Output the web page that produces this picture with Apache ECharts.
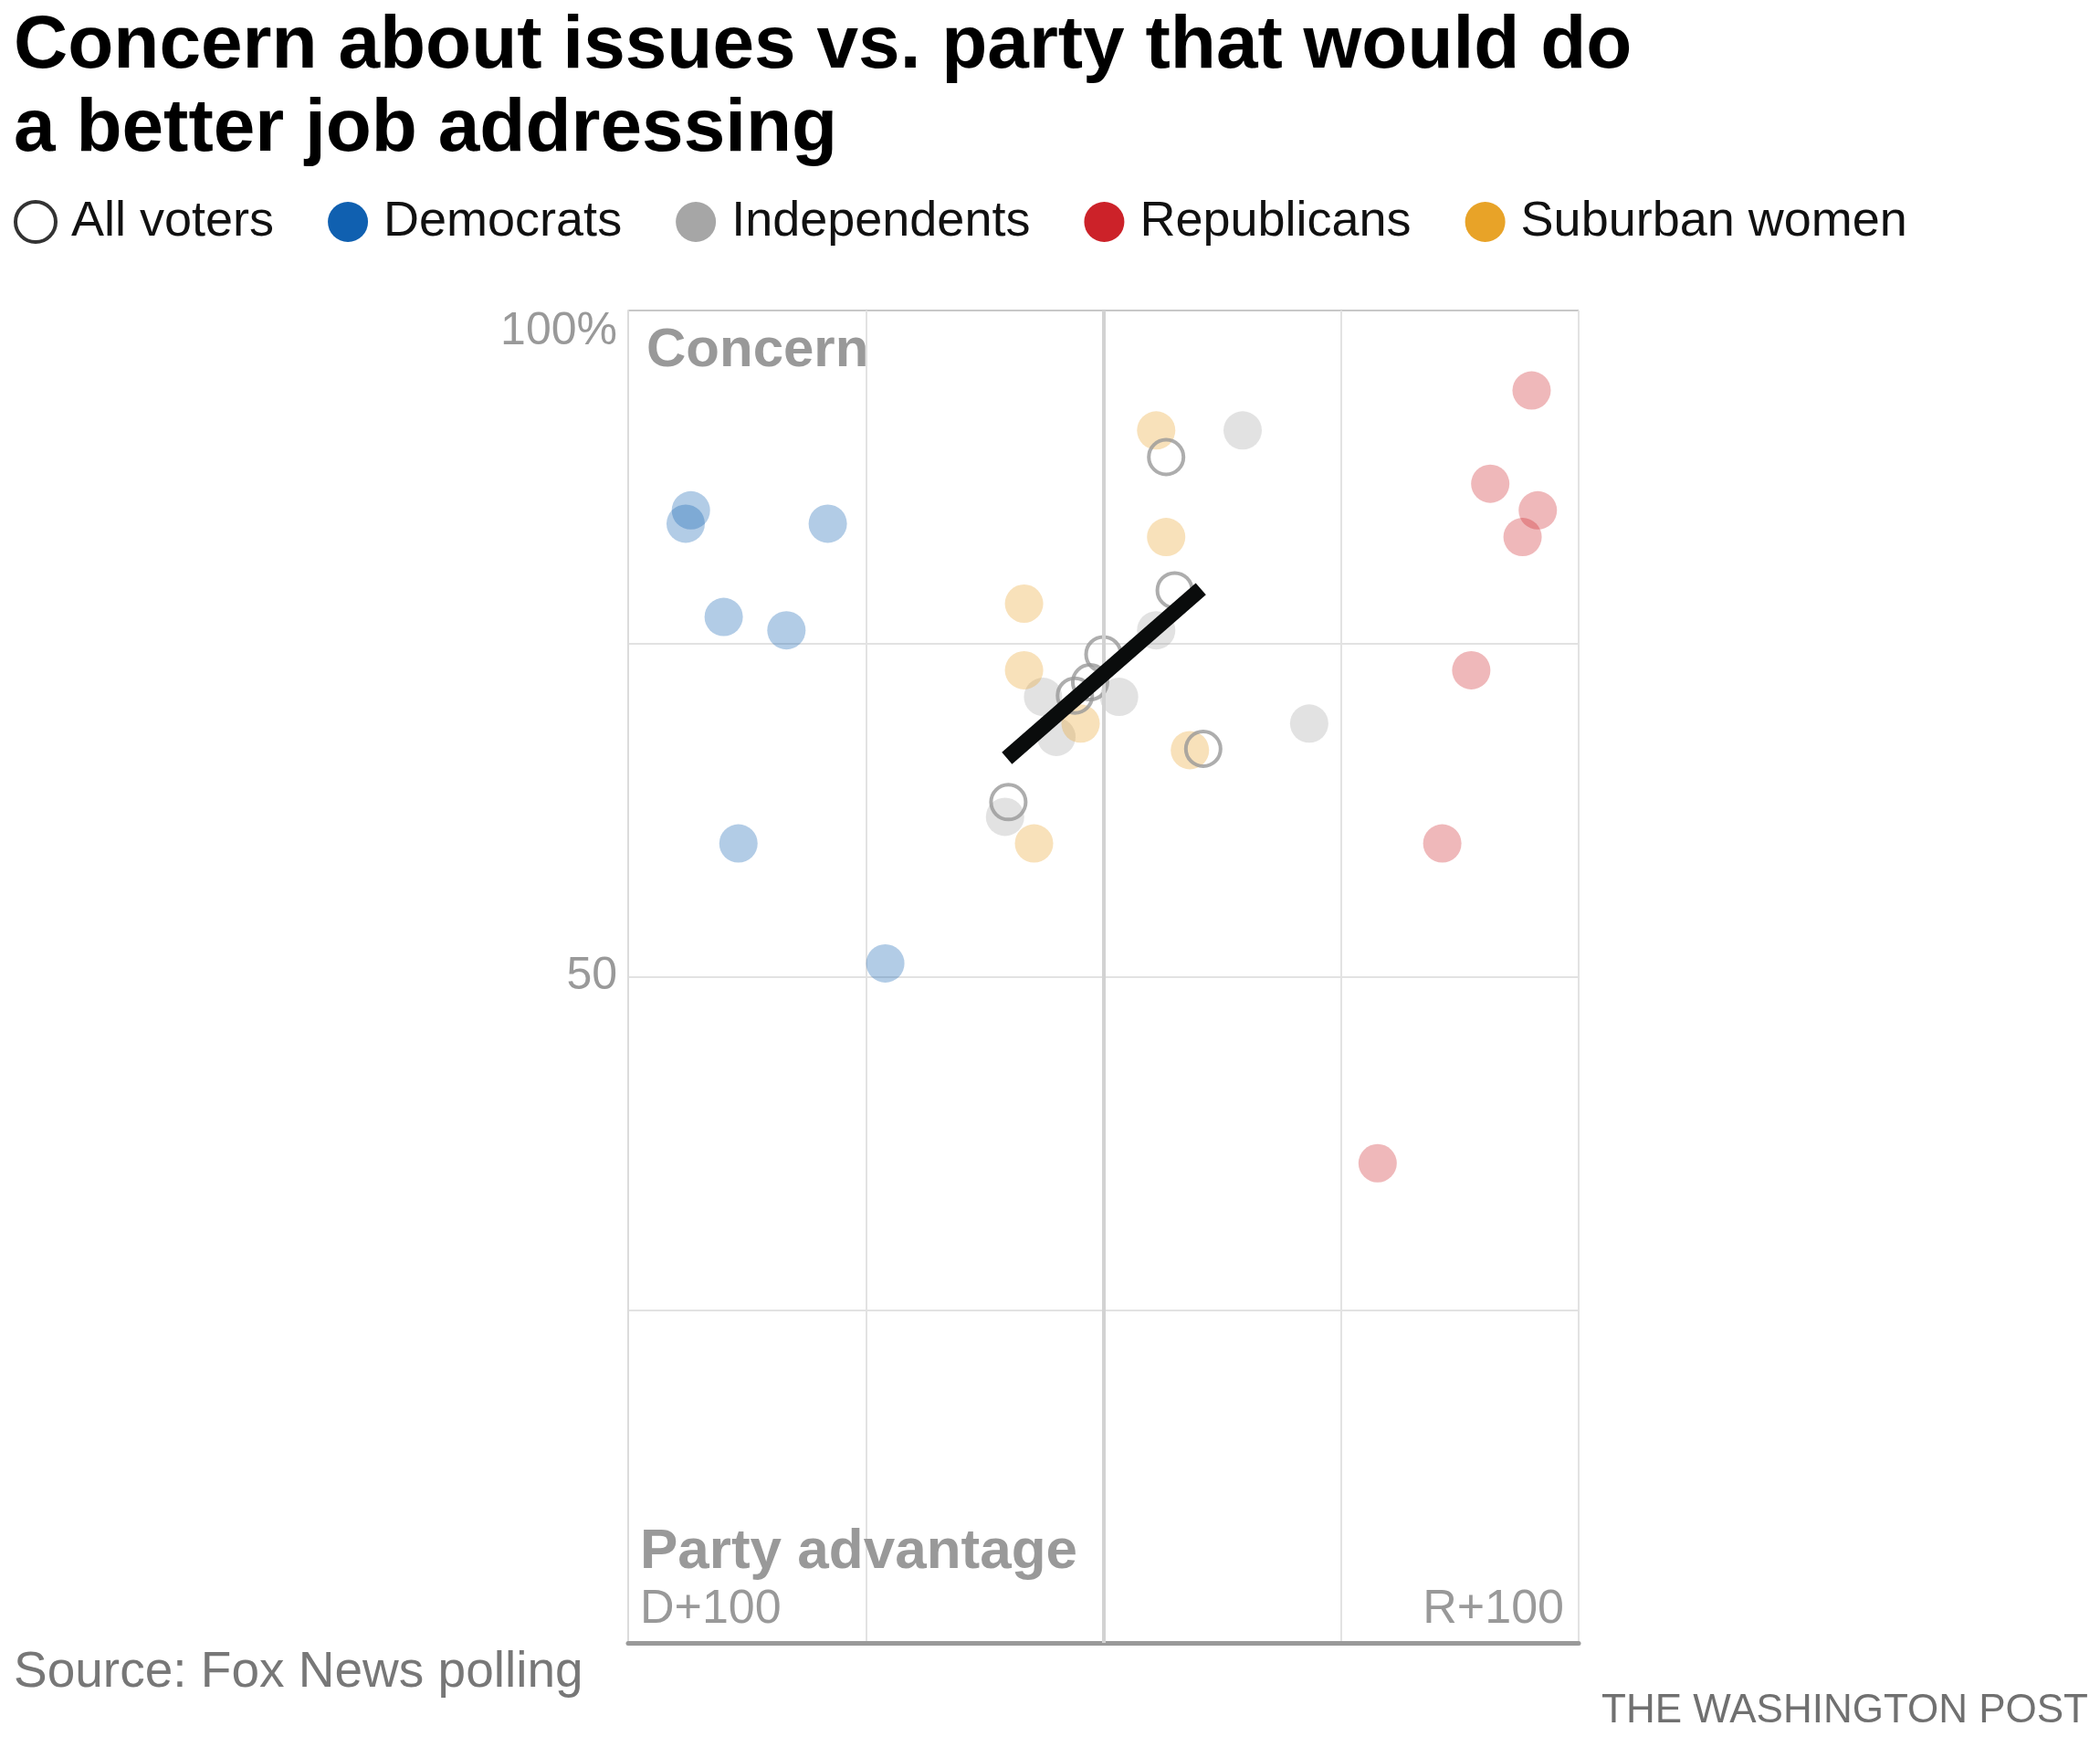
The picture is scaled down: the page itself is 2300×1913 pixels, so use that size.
<!DOCTYPE html>
<html>
<head>
<meta charset="utf-8">
<script src="https://cdn.jsdelivr.net/npm/echarts@6/dist/echarts.min.js"></script>
<style>
  html, body { margin: 0; padding: 0; background: #fff; }
  #chart { width: 2300px; height: 1913px; }
</style>
</head>
<body>
<div id="chart"></div>
<script>
// [party advantage (D- / R+), concern %]
var allVoters = [[13.2, 89], [15.0, 79], [0, 74.2], [-2.8, 72.1], [-6.0, 71.1], [21.0, 67.1], [-20.0, 63.1]];
var democrats = [[-86.8, 85], [-87.9, 84], [-58.0, 84], [-79.9, 77], [-66.7, 76], [-76.8, 60], [-45.9, 51]];
var independents = [[29.3, 91], [11.1, 76], [-12.7, 71], [3.3, 71], [-9.9, 68], [43.3, 69], [-20.7, 62]];
var republicans = [[90.1, 94], [81.4, 87], [91.4, 85], [88.2, 83], [77.4, 73], [71.3, 60], [57.7, 36]];
var suburbanWomen = [[11.1, 91], [13.2, 83], [-16.7, 78], [-16.7, 73], [-4.8, 69], [18.2, 67], [-14.6, 60]];
// trend line through all voters, ends
var trendLine = [[-20.3, 66.4], [20.5, 79.1]];

var xTickLabels = { '-100': 'D+100', '100': 'R+100' };
var yTickLabels = { '100': '{top|100%}', '50': '50' };

(function () {
    'use strict';

    var font = '"Liberation Sans", Arial, sans-serif';
    var chart = echarts.init(document.getElementById('chart'));

    function dots(name, data, color) {
        return {
            name: name,
            type: 'scatter',
            data: data,
            symbolSize: 42,
            itemStyle: { color: color },
            emphasis: { disabled: true }
        };
    }

    var series = [
        dots('Democrats', democrats, 'rgba(16,96,176,0.4)'),
        dots('Independents', independents, 'rgba(166,166,166,0.4)'),
        dots('Republicans', republicans, 'rgba(204,34,41,0.4)'),
        dots('Suburban women', suburbanWomen, 'rgba(232,163,40,0.4)'),
        {
            name: 'All voters',
            type: 'scatter',
            data: allVoters,
            symbolSize: 38,
            itemStyle: { color: 'rgba(0,0,0,0)', borderColor: '#999', borderWidth: 4 },
            emphasis: { disabled: true }
        },
        {
            name: 'trend',
            type: 'line',
            data: trendLine,
            showSymbol: false,
            symbol: 'none',
            lineStyle: { color: '#0a0c0c', width: 17, cap: 'butt' },
            emphasis: { disabled: true },
            z: 5
        }
    ];
    // darker center line at even party advantage
    series[0].markLine = {
        silent: true,
        symbol: 'none',
        label: { show: false },
        lineStyle: { color: '#d2d2d2', width: 4, type: 'solid' },
        data: [{ xAxis: 0 }]
    };

    chart.setOption({
        animation: false,
        textStyle: { fontFamily: font },
        title: [
            {
                text: 'Concern about issues vs. party that would do\na better job addressing',
                left: 15, top: 6, padding: 0,
                textStyle: { fontSize: 82, lineHeight: 91, fontWeight: 'bold', color: '#000', fontFamily: font }
            },
            {
                text: 'Source: Fox News polling',
                left: 15, top: 1804, padding: 0,
                textStyle: { fontSize: 55, fontWeight: 'normal', color: '#777', fontFamily: font }
            },
            {
                text: 'THE WASHINGTON POST',
                right: 13, top: 1852, padding: 0,
                textStyle: { fontSize: 44, fontWeight: 'normal', color: '#707070', fontFamily: font }
            }
        ],
        legend: {
            left: 15, top: 216, padding: 0,
            itemWidth: 44, itemHeight: 44, itemGap: 59,
            selectedMode: false,
            textStyle: { fontSize: 54, color: '#111', fontFamily: font, padding: [0, 0, 0, 12] },
            data: [
                { name: 'All voters', icon: 'circle', itemStyle: { color: '#fff', borderColor: '#000', borderWidth: 4 } },
                { name: 'Democrats', icon: 'circle', itemStyle: { color: '#1060b0', opacity: 1 } },
                { name: 'Independents', icon: 'circle', itemStyle: { color: '#a6a6a6', opacity: 1 } },
                { name: 'Republicans', icon: 'circle', itemStyle: { color: '#cc2229', opacity: 1 } },
                { name: 'Suburban women', icon: 'circle', itemStyle: { color: '#e8a328', opacity: 1 } }
            ]
        },
        grid: { left: 688, right: 571, top: 340, bottom: 114, containLabel: false },
        xAxis: {
            type: 'value', min: -100, max: 100, interval: 50,
            name: 'Party advantage', nameLocation: 'start', nameGap: 0,
            nameTextStyle: { fontSize: 62, fontWeight: 'bold', color: '#999', align: 'left', verticalAlign: 'bottom', padding: [0, 0, 68, 13] },
            axisLine: { show: true, onZero: false, lineStyle: { color: '#999', width: 5 } },
            axisTick: { show: false },
            splitLine: { show: true, lineStyle: { color: '#e2e2e2', width: 2 } },
            axisLabel: {
                inside: true, margin: 10, fontSize: 52, color: '#999',
                alignMinLabel: 'left', alignMaxLabel: 'right',
                padding: [0, 16, 0, 13],
                formatter: function (v) { return xTickLabels[String(v)] || ''; }
            }
        },
        yAxis: {
            type: 'value', min: 0, max: 100, interval: 25,
            name: 'Concern', nameLocation: 'end', nameGap: -14,
            nameTextStyle: { fontSize: 60, fontWeight: 'bold', color: '#999', align: 'left', verticalAlign: 'top', padding: [0, 0, 0, 20] },
            axisLine: { show: true, onZero: false, lineStyle: { color: '#dcdcdc', width: 2 } },
            axisTick: { show: false },
            splitLine: { show: true, lineStyle: { color: ['#e2e2e2', '#e2e2e2', '#e2e2e2', '#e2e2e2', '#c8c8c8'], width: 2 } },
            axisLabel: {
                margin: 12, fontSize: 50, color: '#999',
                formatter: function (v) { return yTickLabels[String(v)] || ''; },
                rich: { top: { fontSize: 50, color: '#999', padding: [46, 0, 0, 0] } }
            }
        },
        tooltip: { show: false },
        series: series
    });
})();
</script>
</body>
</html>
